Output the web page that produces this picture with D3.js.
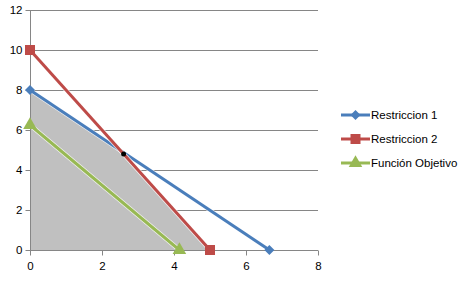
<html>
<head>
<meta charset="utf-8">
<title>Restricciones</title>
<script src="https://cdnjs.cloudflare.com/ajax/libs/d3/7.8.5/d3.min.js"></script>
<style>
	body { margin: 0; background: #fff; }
	text { font-family: "Liberation Sans", Arial, sans-serif; font-size: 11.5px; fill: #000; }
</style>
</head>
<body>
<div id="chart"></div>
<script>
	// datos
	var seriesNames = ["Restriccion 1", "Restriccion 2", "Función Objetivo"];
	var restriccion1 = [[0, 8], [6.65, 0]];
	var restriccion2 = [[0, 10], [5, 0]];
	var funcionObjetivo = [[0, 6.25], [4.15, 0]];
	var regionFactible = [[0, 0], [0, 8], [2.6, 4.8], [5, 0]];
	var puntoOptimo = [2.6, 4.8];
	var xTicks = [0, 2, 4, 6, 8];
	var yTicks = [0, 2, 4, 6, 8, 10, 12];

	var colores = ["#4A7EBB", "#BE4B48", "#98B954"];
	// el rombo es un cuadrado girado 45 grados
	var simbolos = [d3.symbolSquare, d3.symbolSquare, d3.symbolTriangle];
	var giros = [45, 0, 0];
	var tamanos = [50, 100, 80];

	var width = 474, height = 283;
	var plotLeft = 30, plotRight = 318, plotTop = 10, plotBottom = 250;

	var svg = d3.select("#chart").append("svg")
		.attr("width", width).attr("height", height);

	var x = d3.scaleLinear().domain([0, 8]).range([plotLeft, plotRight]);
	var y = d3.scaleLinear().domain([0, 12]).range([plotBottom, plotTop]);

	// lineas de division
	svg.append("g").selectAll("line").data(yTicks.slice(1)).enter().append("line")
		.attr("x1", plotLeft).attr("x2", plotRight)
		.attr("y1", function(d) { return y(d) + 0.5; })
		.attr("y2", function(d) { return y(d) + 0.5; })
		.attr("stroke", "#868686").attr("stroke-width", 1);

	// region factible
	svg.append("path")
		.datum(regionFactible)
		.attr("d", d3.line().x(function(d) { return x(d[0]); }).y(function(d) { return y(d[1]); }))
		.attr("fill", "#C0C0C0");

	// ejes
	var xAxis = d3.axisBottom(x).tickValues(xTicks).tickSize(5).tickPadding(6).tickFormat(d3.format("d"));
	var yAxis = d3.axisLeft(y).tickValues(yTicks).tickSize(5).tickPadding(3).tickFormat(d3.format("d"));

	var gx = svg.append("g").attr("transform", "translate(0," + (plotBottom + 0.5) + ")").call(xAxis);
	var gy = svg.append("g").attr("transform", "translate(" + (plotLeft + 0.5) + ",0)").call(yAxis);
	[gx, gy].forEach(function(g) {
		g.select(".domain").attr("stroke", "#868686");
		g.selectAll(".tick line").attr("stroke", "#868686");
		g.selectAll("text").attr("font-size", 11.5).attr("font-family", "Liberation Sans, Arial, sans-serif").attr("fill", "#000");
	});
	gx.select(".domain").attr("d", "M" + plotLeft + ",0H" + plotRight);
	gy.select(".domain").attr("d", "M0," + plotTop + "V" + plotBottom);

	// series
	var series = [restriccion1, restriccion2, funcionObjetivo];
	var linea = d3.line().x(function(d) { return x(d[0]); }).y(function(d) { return y(d[1]); });

	series.forEach(function(s, i) {
		svg.append("path").datum(s).attr("d", linea)
			.attr("fill", "none").attr("stroke", "#fff").attr("stroke-width", 4.5).attr("stroke-opacity", 0.8);
		svg.append("path").datum(s).attr("d", linea)
			.attr("fill", "none").attr("stroke", colores[i]).attr("stroke-width", 3);
	});
	series.forEach(function(s, i) {
		svg.append("g").selectAll("path").data(s).enter().append("path")
			.attr("transform", function(d) { return "translate(" + x(d[0]) + "," + y(d[1]) + ") rotate(" + giros[i] + ")"; })
			.attr("d", d3.symbol().type(simbolos[i]).size(tamanos[i]))
			.attr("fill", colores[i]);
	});

	// punto optimo
	svg.append("circle")
		.attr("cx", x(puntoOptimo[0])).attr("cy", y(puntoOptimo[1]))
		.attr("r", 2.5).attr("fill", "#000");

	// leyenda
	var leyenda = svg.append("g").attr("transform", "translate(341,115)");
	seriesNames.forEach(function(nombre, i) {
		var g = leyenda.append("g").attr("transform", "translate(0," + (i * 24) + ")");
		g.append("line").attr("x1", 0).attr("x2", 29).attr("y1", 0).attr("y2", 0)
			.attr("stroke", colores[i]).attr("stroke-width", 3);
		g.append("path").attr("transform", "translate(14.5,0) rotate(" + giros[i] + ")")
			.attr("d", d3.symbol().type(simbolos[i]).size(tamanos[i]))
			.attr("fill", colores[i]);
		g.append("text").attr("x", 30).attr("y", 4).text(nombre);
	});
</script>
</body>
</html>
